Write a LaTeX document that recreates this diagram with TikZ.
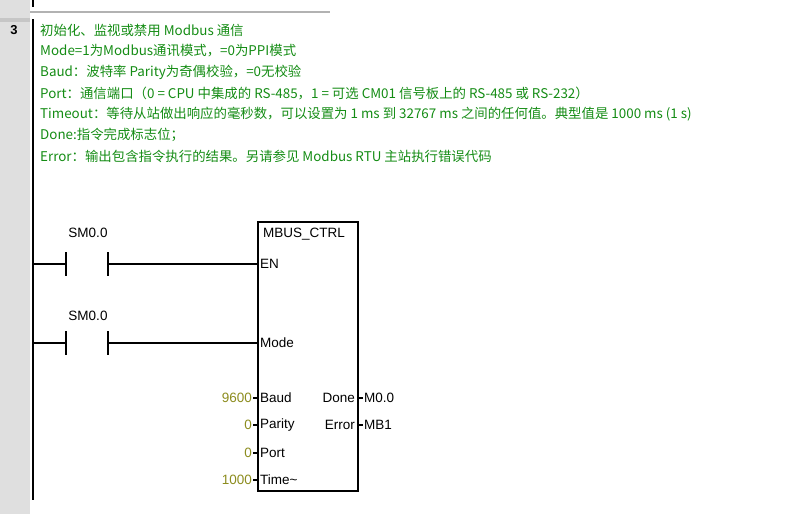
\documentclass[tikz,border=0pt]{standalone}
\usepackage{fontspec}
\setmainfont{Noto Sans CJK SC}
\newfontfamily\lat{Liberation Sans}
\definecolor{cmt}{RGB}{20,140,20}
\definecolor{val}{RGB}{140,140,30}
\begin{document}
\begin{tikzpicture}[x=1pt,y=-1pt,
  note/.style={anchor=west,text=cmt,font=\fontsize{13.4}{13.4}\selectfont,inner sep=0},
  pin/.style={font=\lat\fontsize{13.5}{13.5}\selectfont,inner sep=0},
  vl/.style={pin,text=val,anchor=east},
  wire/.style={line width=1.6pt}]
\useasboundingbox (0,0) rectangle (806,514);
\fill[gray!25] (0,0) rectangle (30,514);
\fill[gray!45] (0,18) rectangle (30,22);
\draw[gray!60,line width=2pt] (30,12) -- (330,12);
\draw[line width=1.5pt] (33,0) -- (33,7);
\node[font=\lat\bfseries\fontsize{13}{13}\selectfont,inner sep=0] (n) at (14,30) {3};
\draw[line width=2pt] (33,19) -- (33,500);
\node[note] (t1) at (40,30) {初始化、监视或禁用 Modbus 通信};
\node[note] (t2) at (40,51) {Mode=1为Modbus通讯模式，=0为PPI模式};
\node[note] (t3) at (40,72) {Baud：波特率 Parity为奇偶校验，=0无校验};
\node[note] (t4) at (40,93) {Port：通信端口（0 = CPU 中集成的 RS-485，1 = 可选 CM01 信号板上的 RS-485 或 RS-232）};
\node[note] (t5) at (40,114) {Timeout：等待从站做出响应的毫秒数，可以设置为 1 ms 到 32767 ms 之间的任何值。典型值是 1000 ms (1 s)};
\node[note] (t6) at (40,135) {Done:指令完成标志位；};
\node[note] (t7) at (40,156) {Error：输出包含指令执行的结果。另请参见 Modbus RTU 主站执行错误代码};
% box
\draw[line width=1.6pt] (258,222) rectangle (358,491);
\node[pin,anchor=west] (ttl) at (263,234) {MBUS\_CTRL};
\foreach \n/\y in {EN/264,Mode/343,Baud/398,Parity/425,Port/453}
  \node[pin,anchor=west] (p\n) at (260,\y) {\n};
\node[pin,anchor=west] (pTime) at (260,480) {Time\textasciitilde};
% contacts
\foreach \r/\y/\ly in {1/264/233,2/343/316}{
  \coordinate (a\r) at (33,\y); \coordinate (b\r) at (66,\y);
  \coordinate (c\r) at (108,\y); \coordinate (d\r) at (258,\y);
  \draw[wire] (a\r) -- (b\r); \draw[wire] (c\r) -- (d\r);
  \draw[wire] (66,\y-12) -- (66,\y+12); \draw[wire] (108,\y-12) -- (108,\y+12);
  \node[pin] (s\r) at (88,\ly) {SM0.0};
}
\foreach \v/\y in {9600/398,0/425,0/453,1000/480}{
  \draw[wire] (253,\y) -- (258,\y);
  \node[vl] at (252,\y) {\v};}
\node[pin,anchor=east] (done) at (355,398) {Done};
\node[pin,anchor=east] (err) at (355,425) {Error};
\draw[wire] (358,398) -- (363,398); \draw[wire] (358,425) -- (363,425);
\node[pin,anchor=west] (m0) at (364,398) {M0.0};
\node[pin,anchor=west] (mb) at (364,425) {MB1};
\end{tikzpicture}
\end{document}
